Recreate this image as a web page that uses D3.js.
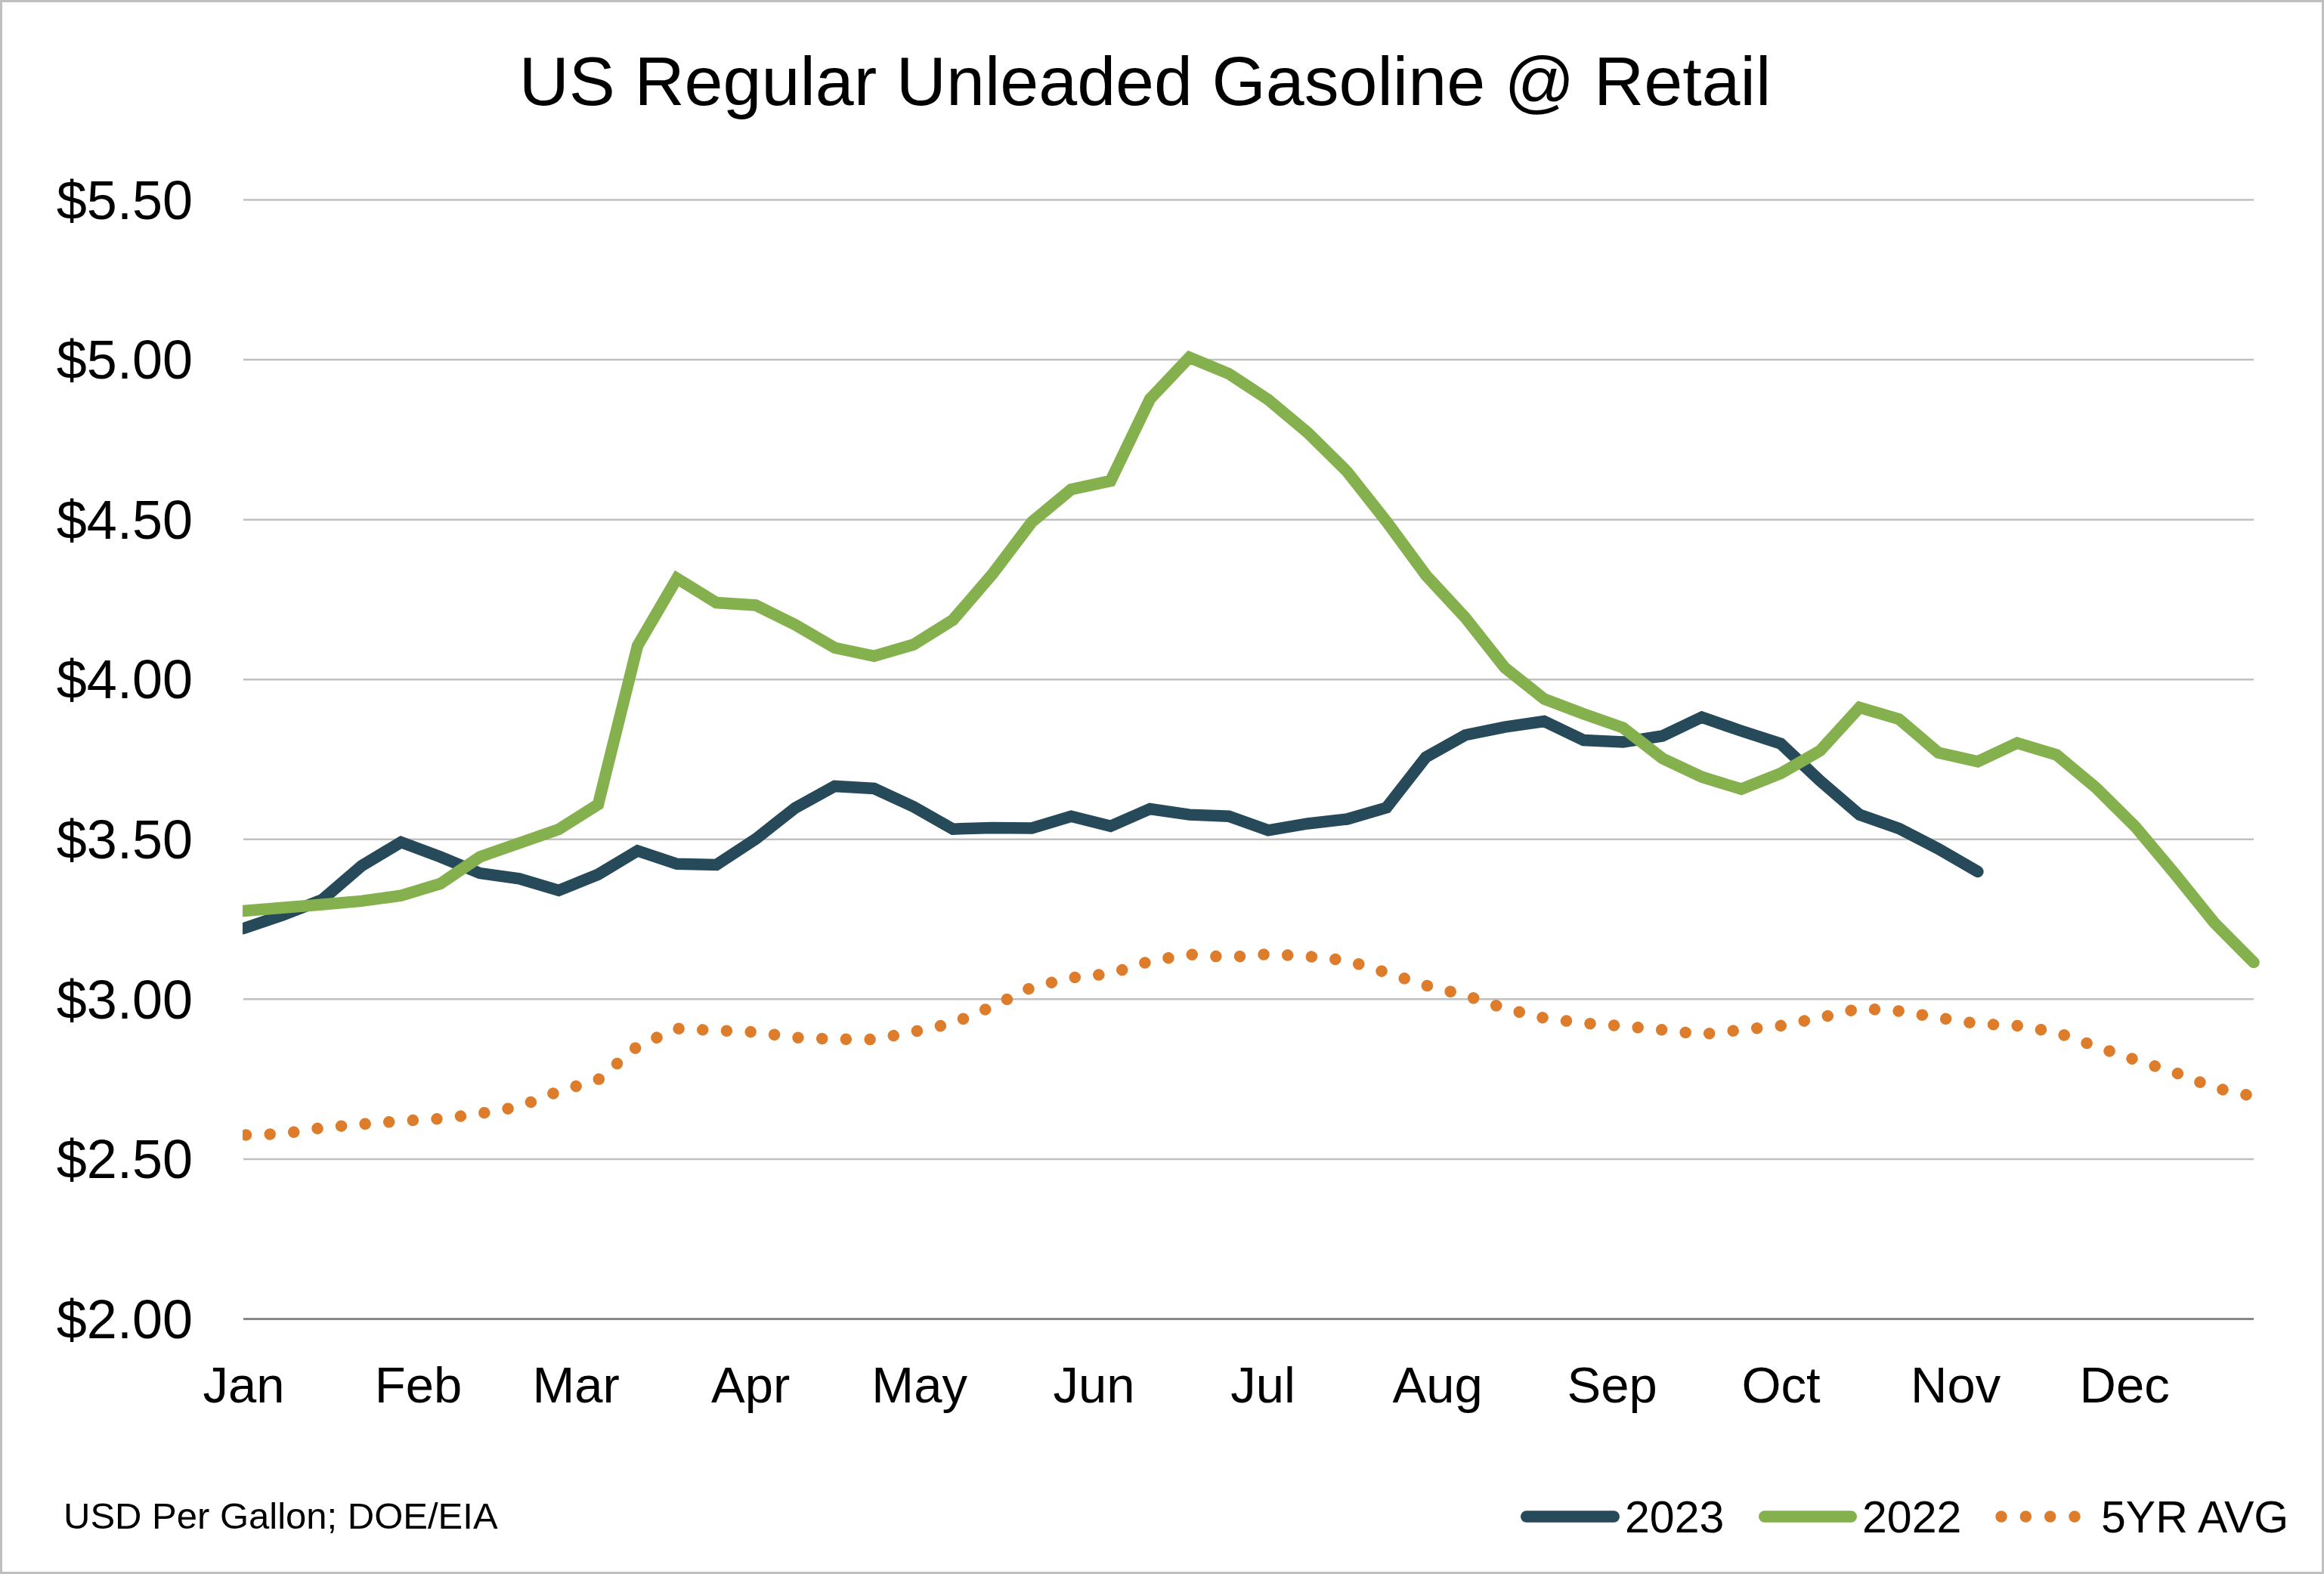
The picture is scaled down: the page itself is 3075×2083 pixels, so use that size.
<!DOCTYPE html>
<html>
<head>
<meta charset="utf-8">
<script src="https://cdn.jsdelivr.net/npm/d3@7"></script>
<style>
  html, body { margin: 0; padding: 0; background: #ffffff; }
  svg { display: block; }
  text { font-family: "Liberation Sans", Arial, "DejaVu Sans", sans-serif; fill: #000; }
</style>
</head>
<body>
<div id="chart"></div>
<script>
// ---------------- DATA ----------------
const chartTitle = "US Regular Unleaded Gasoline @ Retail";
const footnote = "USD Per Gallon; DOE/EIA";
const monthLabels = ["Jan", "Feb", "Mar", "Apr", "May", "Jun", "Jul", "Aug", "Sep", "Oct", "Nov", "Dec"];
const yTickValues = [2.0, 2.5, 3.0, 3.5, 4.0, 4.5, 5.0, 5.5];
const seriesNames = ["2023", "2022", "5YR AVG"];
const seriesColors = ["#264a59", "#84b14d", "#dd7d2c"];

// weekly retail prices (USD/gal)
const values2023 = [3.220, 3.262, 3.310, 3.416, 3.490, 3.444, 3.393, 3.376, 3.339, 3.389,
                    3.463, 3.422, 3.419, 3.500, 3.597, 3.665, 3.658, 3.601, 3.531, 3.535,
                    3.534, 3.571, 3.540, 3.594, 3.576, 3.571, 3.527, 3.548, 3.562, 3.598,
                    3.756, 3.825, 3.850, 3.868, 3.809, 3.803, 3.822, 3.881, 3.838, 3.798,
                    3.682, 3.576, 3.533, 3.469, 3.398];
const values2022 = [3.275, 3.285, 3.295, 3.306, 3.323, 3.360, 3.444, 3.487, 3.530, 3.608,
                    4.104, 4.315, 4.239, 4.231, 4.170, 4.098, 4.072, 4.108, 4.185, 4.328,
                    4.491, 4.593, 4.620, 4.876, 5.006, 4.955, 4.874, 4.771, 4.649, 4.493,
                    4.325, 4.192, 4.036, 3.938, 3.891, 3.848, 3.752, 3.694, 3.656, 3.705,
                    3.776, 3.911, 3.875, 3.770, 3.742, 3.800, 3.763, 3.660, 3.538, 3.391,
                    3.238, 3.114];
const values5yr = [2.574, 2.578, 2.597, 2.608, 2.618, 2.625, 2.641, 2.663, 2.711, 2.747,
                   2.852, 2.907, 2.901, 2.896, 2.879, 2.874, 2.873, 2.897, 2.924, 2.976,
                   3.036, 3.066, 3.079, 3.118, 3.139, 3.130, 3.140, 3.133, 3.120, 3.082,
                   3.042, 3.011, 2.970, 2.940, 2.924, 2.915, 2.903, 2.889, 2.903, 2.916,
                   2.941, 2.970, 2.962, 2.941, 2.922, 2.916, 2.895, 2.851, 2.809, 2.770,
                   2.722, 2.695];

// ---------------- LAYOUT ----------------
const W = 3075, H = 2083;
const plot = { left: 322, right: 2982, top: 264, bottom: 1745 };
const lineW = 15.5;

const yearStart = new Date(2023, 0, 1);
const weekDate = i => d3.timeDay.offset(yearStart, 7 * i);

const x = d3.scaleTime()
  .domain([weekDate(0), weekDate(values2022.length - 1)])
  .range([plot.left, plot.right]);
const y = d3.scaleLinear()
  .domain([2.0, 5.5])
  .range([plot.bottom, plot.top]);

const svg = d3.select("#chart").append("svg")
  .attr("width", W).attr("height", H)
  .attr("viewBox", `0 0 ${W} ${H}`);

svg.append("rect").attr("x", 0).attr("y", 0).attr("width", W).attr("height", H).attr("fill", "#fff");
svg.append("rect").attr("x", 1.5).attr("y", 1.5).attr("width", W - 3).attr("height", H - 3)
  .attr("fill", "none").attr("stroke", "#bfbfbf").attr("stroke-width", 3);

// Title
const title = svg.append("text")
  .attr("x", 1515).attr("y", 139)
  .attr("text-anchor", "middle")
  .attr("font-size", 96)
  .text(chartTitle);
(function fit(t, target) {
  const len = t.node().getComputedTextLength();
  const fs = +t.attr("font-size");
  t.attr("font-size", fs * target / len);
})(title, 1657);

// Y axis with gridlines
const yAxis = svg.append("g")
  .attr("transform", `translate(${plot.left},0)`)
  .call(d3.axisLeft(y)
    .tickValues(yTickValues)
    .tickSize(-(plot.right - plot.left))
    .tickPadding(67)
    .tickFormat(d => "$" + d.toFixed(2)));
yAxis.select(".domain").remove();
yAxis.selectAll(".tick line")
  .attr("stroke", d => d === 2.0 ? "#878787" : "#c0c0c0")
  .attr("stroke-width", d => d === 2.0 ? 3 : 2.5);
yAxis.selectAll(".tick text")
  .attr("font-size", 72)
  .attr("dy", "0.35em")
  .attr("fill", "#000");

// X axis (month labels)
const monthDates = d3.timeMonth.range(new Date(2023, 0, 1), new Date(2024, 0, 1));
const xAxis = svg.append("g")
  .attr("transform", `translate(0,${plot.bottom})`)
  .call(d3.axisBottom(x)
    .tickValues(monthDates)
    .tickSize(0)
    .tickPadding(63)
    .tickFormat((d, i) => monthLabels[i]));
xAxis.select(".domain").remove();
xAxis.selectAll(".tick text")
  .attr("font-size", 67)
  .attr("fill", "#000");

// Lines
svg.append("defs").append("clipPath").attr("id", "plotClip")
  .append("rect").attr("x", plot.left - 1).attr("y", 0)
  .attr("width", plot.right - plot.left + 30).attr("height", H);

const line = d3.line()
  .x((d, i) => x(weekDate(i)))
  .y(d => y(d));

const g = svg.append("g").attr("clip-path", "url(#plotClip)");

const dotPeriod = 31.7;
g.append("path")
  .datum(values5yr)
  .attr("d", line)
  .attr("fill", "none")
  .attr("stroke", seriesColors[2])
  .attr("stroke-width", lineW)
  .attr("stroke-linecap", "round")
  .attr("stroke-dasharray", `0.01 ${dotPeriod - 0.01}`)
  .attr("stroke-dashoffset", dotPeriod - 3.5);

g.append("path")
  .datum(values2023)
  .attr("d", line)
  .attr("fill", "none")
  .attr("stroke", seriesColors[0])
  .attr("stroke-width", lineW)
  .attr("stroke-linejoin", "miter")
  .attr("stroke-linecap", "round");

g.append("path")
  .datum(values2022)
  .attr("d", line)
  .attr("fill", "none")
  .attr("stroke", seriesColors[1])
  .attr("stroke-width", lineW)
  .attr("stroke-linejoin", "miter")
  .attr("stroke-linecap", "round");

// Footnote
svg.append("text")
  .attr("x", 84).attr("y", 2023)
  .attr("font-size", 49)
  .text(footnote);

// Legend
const legendY = 2007;
const legendItems = [
  { x0: 2012, x1: 2143, tx: 2150, dashed: false },
  { x0: 2327, x1: 2457, tx: 2464, dashed: false },
  { x0: 2648, x1: 2745, tx: 2780, dashed: true }
];
const leg = svg.append("g");
legendItems.forEach((it, i) => {
  if (!it.dashed) {
    leg.append("line")
      .attr("x1", it.x0 + lineW / 2).attr("x2", it.x1 - lineW / 2)
      .attr("y1", legendY).attr("y2", legendY)
      .attr("stroke", seriesColors[i]).attr("stroke-width", lineW)
      .attr("stroke-linecap", "round");
  } else {
    leg.append("line")
      .attr("x1", it.x0).attr("x2", it.x1 + 1)
      .attr("y1", legendY).attr("y2", legendY)
      .attr("stroke", seriesColors[i]).attr("stroke-width", lineW)
      .attr("stroke-linecap", "round")
      .attr("stroke-dasharray", `0.01 ${(it.x1 - it.x0) / 3 - 0.01}`);
  }
  leg.append("text")
    .attr("x", it.tx).attr("y", 2028)
    .attr("font-size", 59)
    .text(seriesNames[i]);
});
</script>
</body>
</html>
